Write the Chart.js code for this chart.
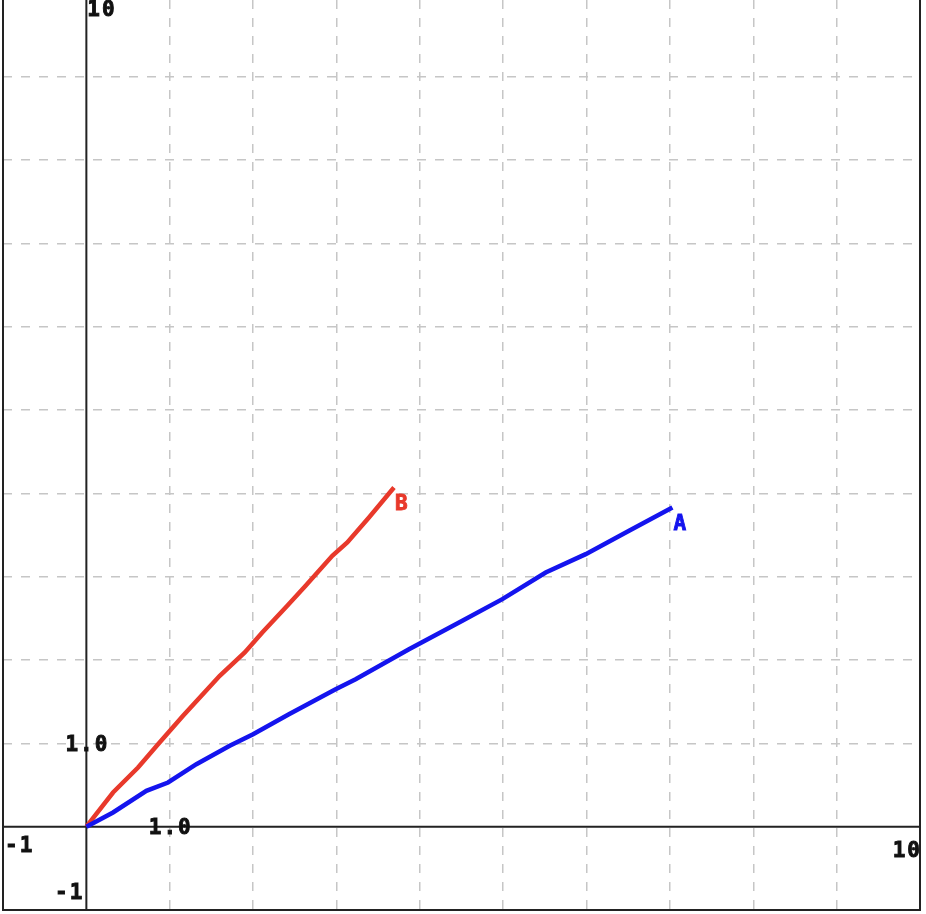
<!DOCTYPE html>
<html>
<head>
<meta charset="utf-8">
<script src="https://cdn.jsdelivr.net/npm/chart.js@4.4.1/dist/chart.umd.min.js"></script>
<style>
  html, body { margin: 0; padding: 0; background: #fff; }
  canvas { display: block; }
</style>
</head>
<body>
<canvas id="graph" width="926" height="914"></canvas>
<script>
// данные
const seriesNames = ['A', 'B'];
const seriesColors = ['#1414ee', '#e8392b'];

const aX = [0, 0.32, 0.72, 0.98, 1.32, 1.72, 2.0, 2.43, 2.99, 3.23, 3.87, 4.51, 4.99, 5.51, 5.99, 6.51, 7.03];
const aY = [0, 0.17, 0.43, 0.53, 0.75, 0.97, 1.11, 1.35, 1.65, 1.77, 2.13, 2.47, 2.73, 3.05, 3.27, 3.55, 3.83];

const bX = [0, 0.32, 0.62, 0.86, 1.16, 1.60, 1.90, 2.11, 2.41, 2.63, 2.95, 3.13, 3.39, 3.69];
const bY = [0, 0.41, 0.71, 0.99, 1.33, 1.81, 2.09, 2.33, 2.65, 2.89, 3.25, 3.41, 3.71, 4.07];

// подписи осей
const xTickValues = [-1, 1, 10];
const xTickLabels = ['-1', '1.0', '10'];
const yTickValues = [-1, 1, 10];
const yTickLabels = ['-1', '1.0', '10'];

function toPoints(xs, ys) {
    return xs.map(function (x, i) {
        return { x: x, y: ys[i] };
    });
}

const labelFont = 'bold 21px "DejaVu Sans Mono", monospace';

// жирный текст: заливка + обводка
function boldText(ctx, t, x, y) {
    ctx.fillText(t, x, y);
    ctx.strokeText(t, x, y);
}

// оси через ноль, рамка, подписи
const axesPlugin = {
    id: 'axesPlugin',
    beforeDatasetsDraw(chart) {
        const ctx = chart.ctx;
        const area = chart.chartArea;
        const sx = chart.scales.x;
        const sy = chart.scales.y;
        const x0 = sx.getPixelForValue(0);
        const y0 = sy.getPixelForValue(0);
        ctx.save();
        ctx.strokeStyle = '#222';
        ctx.lineWidth = 2;
        ctx.beginPath();
        ctx.moveTo(x0, area.top);
        ctx.lineTo(x0, area.bottom);
        ctx.moveTo(area.left, y0);
        ctx.lineTo(area.right, y0);
        // рамка слева, справа, снизу
        ctx.moveTo(area.left, area.top);
        ctx.lineTo(area.left, area.bottom);
        ctx.lineTo(area.right, area.bottom);
        ctx.lineTo(area.right, area.top);
        ctx.stroke();
        ctx.restore();
    },
    afterDraw(chart) {
        const ctx = chart.ctx;
        const area = chart.chartArea;
        const sx = chart.scales.x;
        const sy = chart.scales.y;
        const x0 = sx.getPixelForValue(0);
        const y0 = sy.getPixelForValue(0);
        ctx.save();
        ctx.font = labelFont;
        ctx.letterSpacing = '2px';
        ctx.fillStyle = '#111';
        ctx.strokeStyle = '#111';
        ctx.lineWidth = 0.9;

        xTickValues.forEach(function (v, i) {
            const px = sx.getPixelForValue(v);
            const t = xTickLabels[i];
            if (v === 1) {
                ctx.textAlign = 'center';
                ctx.textBaseline = 'middle';
                boldText(ctx, t, px + 1, y0 + 2);
            } else if (v < 0) {
                ctx.textAlign = 'left';
                ctx.textBaseline = 'top';
                boldText(ctx, t, px + 2, y0 + 9);
            } else {
                ctx.textAlign = 'right';
                ctx.textBaseline = 'top';
                boldText(ctx, t, Math.min(px, area.right) + 2, y0 + 14);
            }
        });

        yTickValues.forEach(function (v, i) {
            const py = sy.getPixelForValue(v);
            const t = yTickLabels[i];
            if (v === 1) {
                ctx.textAlign = 'center';
                ctx.textBaseline = 'middle';
                boldText(ctx, t, x0 + 1, py + 2);
            } else if (v < 0) {
                ctx.textAlign = 'right';
                ctx.textBaseline = 'bottom';
                boldText(ctx, t, x0 - 2, py - 6);
            } else {
                ctx.textAlign = 'left';
                ctx.textBaseline = 'top';
                boldText(ctx, t, x0 + 1, Math.max(py, area.top));
            }
        });

        // имена кривых у последней точки
        chart.data.datasets.forEach(function (ds, i) {
            const meta = chart.getDatasetMeta(i);
            const last = meta.data[meta.data.length - 1];
            ctx.fillStyle = seriesColors[i];
            ctx.strokeStyle = seriesColors[i];
            ctx.textAlign = 'left';
            ctx.textBaseline = 'top';
            boldText(ctx, ds.label, last.x + 1, last.y + 7);
        });
        ctx.restore();
    }
};

function gridColor(c) {
    const v = c.tick ? c.tick.value : null;
    return (v === null || v <= 0 || v > 9.5) ? 'rgba(0,0,0,0)' : '#c6c6c6';
}

const ctx = document.getElementById('graph').getContext('2d');

new Chart(ctx, {
    type: 'scatter',
    data: {
        datasets: [
            {
                label: seriesNames[0],
                data: toPoints(aX, aY),
                showLine: true,
                borderColor: seriesColors[0],
                borderWidth: 4.5,
                pointRadius: 0,
                tension: 0
            },
            {
                label: seriesNames[1],
                data: toPoints(bX, bY),
                showLine: true,
                borderColor: seriesColors[1],
                borderWidth: 4.5,
                pointRadius: 0,
                tension: 0
            }
        ]
    },
    options: {
        responsive: false,
        animation: false,
        layout: { padding: { left: 3, right: 6, top: 0, bottom: 4 } },
        plugins: {
            legend: { display: false },
            tooltip: { enabled: false }
        },
        scales: {
            x: {
                type: 'linear',
                min: -1,
                max: 10,
                ticks: { display: false, stepSize: 1 },
                grid: { drawTicks: false, lineWidth: 1.5, color: gridColor },
                border: { display: false, dash: [9, 9] }
            },
            y: {
                type: 'linear',
                min: -1,
                max: 9.92,
                ticks: { display: false, stepSize: 1 },
                grid: { drawTicks: false, lineWidth: 1.5, color: gridColor },
                border: { display: false, dash: [9, 9] }
            }
        }
    },
    plugins: [axesPlugin]
});
</script>
</body>
</html>
